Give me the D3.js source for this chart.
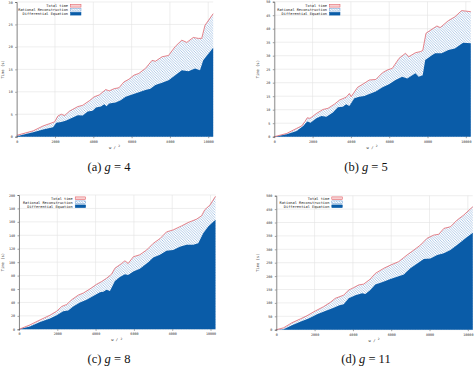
<!DOCTYPE html>
<html>
<head>
<meta charset="utf-8">
<script src="https://cdn.jsdelivr.net/npm/d3@7"></script>
<style>
  body { margin: 0; background: #fff; }
</style>
</head>
<body>
<div id="chart"></div>
<script>
// readings taken off the figure, one pair of arrays per series
var totalXA = [0,860,1380,1980,2150,2330,2500,2760,2930,3190,3450,3790,4050,4310,4650,4830,5090,5340,5600,5860,6120,6380,6720,7070,7240,7590,7930,8280,8620,8880,9220,9480,9660,9830,10260];
var totalA  = [0.3,1.3,2.4,3.3,4.6,5.0,4.7,5.7,6.1,6.7,7.0,8.0,8.9,9.3,10.5,10.2,10.7,10.9,12.2,12.8,13.7,14.1,15.2,17.0,16.8,17.8,18.1,20.1,21.5,21.0,22.1,21.9,21.9,24.8,27.4];
var diffXA  = [0,860,1380,1900,2070,2330,2590,2840,3190,3450,3710,3970,4140,4400,4570,4690,4830,5170,5430,5690,6030,6380,6720,6980,7240,7590,7930,8280,8620,8970,9310,9570,9740,10260];
var diffA   = [0.1,1.0,1.6,2.1,3.1,3.3,3.6,4.1,4.8,4.7,5.6,5.8,6.5,6.7,7.2,6.8,7.4,7.6,8.1,8.9,9.4,9.9,10.4,10.7,11.5,12.0,12.6,13.7,14.8,14.6,15.2,14.8,17.0,19.8];

var totalXB = [0,650,1170,1430,1600,1720,1860,1980,2200,2550,2800,3150,3410,3750,3920,4010,4350,4700,4960,5300,5650,5900,6160,6510,6850,7020,7370,7620,7750,7920,8230,8490,8660,9090,9430,9780,10260];
var totalB  = [0,1.2,3.1,4.0,5.6,7.0,6.8,7.4,8.6,10.1,10.5,12.1,13.6,14.6,16.0,14.8,18.3,19.8,21.0,21.2,23.7,24.7,25.3,29.0,30.9,29.6,31.1,31.5,31.9,38.3,39.8,41.0,40.4,43.0,44.4,46.7,46.3];
var diffXB  = [0,650,1170,1510,1720,1890,2200,2460,2720,3060,3320,3580,3750,3920,4180,4440,4700,4960,5300,5650,5990,6330,6680,6940,7370,7540,7750,7880,8230,8400,8740,9090,9430,9860,10260];
var diffB   = [0,0.9,2.1,4.0,5.6,5.2,6.8,7.7,7.4,9.0,10.9,11.1,12.0,11.4,14.2,14.8,15.1,15.8,16.7,18.3,19.4,21.0,22.2,21.6,23.5,22.2,22.8,28.4,30.2,30.9,30.9,32.1,32.7,34.8,34.6];

var totalXC = [0,570,1100,1620,1970,2230,2490,2750,3100,3360,3700,4050,4310,4570,4830,5010,5360,5530,5700,5970,6310,6660,7010,7360,7700,8050,8490,8830,9270,9530,9700,9970,10260];
var totalC  = [0,6.5,14,21,27,34,37,44,51,54,60,67,71,76,82,91,98,102,98,108,111,118,128,135,145,148,154,159,164,169,178,185,198];
var diffXC  = [0,570,1100,1620,1970,2310,2570,2830,3180,3530,3970,4230,4400,4570,4750,5010,5270,5530,5700,5970,6310,6750,7010,7360,7700,8050,8400,8750,9100,9360,9620,9880,10260];
var diffC   = [0,4,11,16,21,27,28,34,40,44,51,55,56,59,57,72,78,82,81,86,90,100,107,111,117,118,123,126,126,128,143,153,163];

var totalXD = [0,380,820,1250,1600,2040,2470,2820,3080,3520,3780,4040,4300,4560,4910,5170,5610,5960,6390,6830,7180,7530,7870,8220,8480,8750,9090,9440,9790,10260];
var totalD  = [0,7,26,40,52,70,86,102,117,129,148,157,167,170,189,210,229,241,254,279,297,316,341,353,356,378,384,409,428,459];
var diffXD  = [0,380,820,1250,1690,2130,2560,3000,3260,3520,3780,4130,4480,4650,4910,5170,5520,5960,6310,6660,7000,7440,7700,8050,8400,8750,9090,9440,9880,10260];
var diffD   = [0,2,17,30,42,58,70,82,90,95,117,129,136,133,148,169,177,189,198,206,229,251,264,266,279,285,297,316,341,362];

var xTicks = [0,2000,4000,6000,8000,10000];
var seriesNames = ["Total time", "Rational Reconstruction", "Differential Equation"];
var captions = [["(a) ", "g", " = 4"], ["(b) ", "g", " = 5"], ["(c) ", "g", " = 8"], ["(d) ", "g", " = 11"]];

var width = 474, height = 366;
var blue = "#0a5ca8", red = "#e0525a", hatchBlue = "#6f9fd4";
var mono = "'DejaVu Sans Mono', monospace";

var svg = d3.select("#chart").append("svg")
    .attr("width", width)
    .attr("height", height);

var defs = svg.append("defs");
var pat = defs.append("pattern")
    .attr("id", "hatch")
    .attr("patternUnits", "userSpaceOnUse")
    .attr("width", 2.6)
    .attr("height", 2.6);
pat.append("rect").attr("width", 2.6).attr("height", 2.6).attr("fill", "#fff");
pat.append("path")
    .attr("d", "M-1,-1L3.6,3.6M-1,1.6L1,3.6M1.6,-1L3.6,1")
    .attr("stroke", hatchBlue)
    .attr("stroke-width", 0.55);

var panels = [
  {left: 16.7, top: 2, bottom: 136.7, yMax: 30, yStep: 5, tx: totalXA, ty: totalA, dx: diffXA, dy: diffA, cx: 109, cy: 171, lx: 3.5, legRight: 68, legTop: 5.7},
  {left: 274.3, top: 1.7, bottom: 136.7, yMax: 50, yStep: 5, tx: totalXB, ty: totalB, dx: diffXB, dy: diffB, cx: 366, cy: 171, lx: 259, legRight: 327, legTop: 5.7},
  {left: 19, top: 195, bottom: 329.3, yMax: 200, yStep: 20, tx: totalXC, ty: totalC, dx: diffXC, dy: diffC, cx: 109, cy: 363, lx: 3.5, legRight: 72.7, legTop: 198.3},
  {left: 276.3, top: 195.7, bottom: 329.7, yMax: 500, yStep: 50, tx: totalXD, ty: totalD, dx: diffXD, dy: diffD, cx: 366, cy: 363, lx: 259, legRight: 329.3, legTop: 198.3}
];

panels.forEach(function(p, i) {
  var x = d3.scaleLinear().domain([0, 10260]).range([p.left, p.left + 196.5]);
  var y = d3.scaleLinear().domain([0, p.yMax]).range([p.bottom, p.top]);
  var g = svg.append("g");

  // grid
  var yTicks = d3.range(0, p.yMax + p.yStep / 2, p.yStep);
  g.append("g").selectAll("line.h").data(yTicks).enter().append("line")
      .attr("x1", x(0)).attr("x2", x(10260))
      .attr("y1", function(d) { return y(d); }).attr("y2", function(d) { return y(d); })
      .attr("stroke", "#e2e2e2").attr("stroke-width", 0.6);
  g.append("g").selectAll("line.v").data(xTicks).enter().append("line")
      .attr("x1", function(d) { return x(d); }).attr("x2", function(d) { return x(d); })
      .attr("y1", y(0)).attr("y2", y(p.yMax))
      .attr("stroke", "#e2e2e2").attr("stroke-width", 0.6);

  var total = p.tx.map(function(v, k) { return [v, p.ty[k]]; });
  var diff = p.dx.map(function(v, k) { return [v, p.dy[k]]; });

  var area = d3.area()
      .x(function(d) { return x(d[0]); })
      .y0(y(0))
      .y1(function(d) { return y(d[1]); });
  var line = d3.line()
      .x(function(d) { return x(d[0]); })
      .y(function(d) { return y(d[1]); });

  g.append("path").datum(total).attr("d", area).attr("fill", "url(#hatch)");
  g.append("path").datum(diff).attr("d", area).attr("fill", blue);
  g.append("path").datum(total).attr("d", line)
      .attr("fill", "none").attr("stroke", red).attr("stroke-width", 0.7);

  // axes
  var yAxis = d3.axisLeft(y).tickValues(yTicks).tickSize(1.5).tickPadding(2.5).tickFormat(d3.format("d"));
  var xAxis = d3.axisBottom(x).tickValues(xTicks).tickSize(1.5).tickPadding(2).tickFormat(d3.format("d"));
  var ya = g.append("g").attr("transform", "translate(" + p.left + ",0)").call(yAxis);
  var xa = g.append("g").attr("transform", "translate(0," + p.bottom + ")").call(xAxis);
  [ya, xa].forEach(function(a) {
    a.select(".domain").attr("stroke", "#444").attr("stroke-width", 0.6);
    a.selectAll(".tick line").attr("stroke", "#444").attr("stroke-width", 0.5);
    a.selectAll("text").attr("font-size", 3.4).attr("fill", "#333")
        .attr("font-family", mono);
  });
  xa.select(".domain").attr("stroke", "none");

  // axis labels
  g.append("text")
      .attr("transform", "translate(" + p.lx + "," + ((p.top + p.bottom) / 2) + ") rotate(-90)")
      .attr("text-anchor", "middle")
      .attr("font-family", mono)
      .attr("font-size", 3.8).attr("fill", "#333")
      .text("Time (s)");
  var xl = g.append("text")
      .attr("x", (x(0) + x(10000)) / 2 + 2)
      .attr("y", p.bottom + 12)
      .attr("text-anchor", "middle")
      .attr("font-family", mono)
      .attr("font-size", 3.8).attr("fill", "#333");
  xl.append("tspan").text("w / ");
  xl.append("tspan").attr("dy", -1.5).attr("font-size", 3).text("2");

  // legend
  var leg = g.append("g");
  seriesNames.forEach(function(name, k) {
    var ly = p.legTop + k * 4;
    leg.append("text")
        .attr("x", p.legRight).attr("y", ly + 1.2)
        .attr("text-anchor", "end")
        .attr("font-family", mono)
        .attr("font-size", 3.6).attr("fill", "#222")
        .text(name);
    var r = leg.append("rect")
        .attr("x", p.legRight + 2.5).attr("y", ly - 1.4)
        .attr("width", 10.5).attr("height", 2.8)
        .attr("stroke-width", 0.5);
    if (k === 0) r.attr("fill", "#f7d0d2").attr("stroke", red);
    else if (k === 1) r.attr("fill", "url(#hatch)").attr("stroke", hatchBlue);
    else r.attr("fill", blue).attr("stroke", blue);
  });

  // caption
  var cap = svg.append("text")
      .attr("x", p.cx).attr("y", p.cy)
      .attr("text-anchor", "middle")
      .attr("font-family", "'Liberation Serif', 'Times New Roman', serif")
      .attr("font-size", 12.5).attr("fill", "#111");
  cap.append("tspan").text(captions[i][0]);
  cap.append("tspan").attr("font-style", "italic").text(captions[i][1]);
  cap.append("tspan").text(captions[i][2]);
});
</script>
</body>
</html>
